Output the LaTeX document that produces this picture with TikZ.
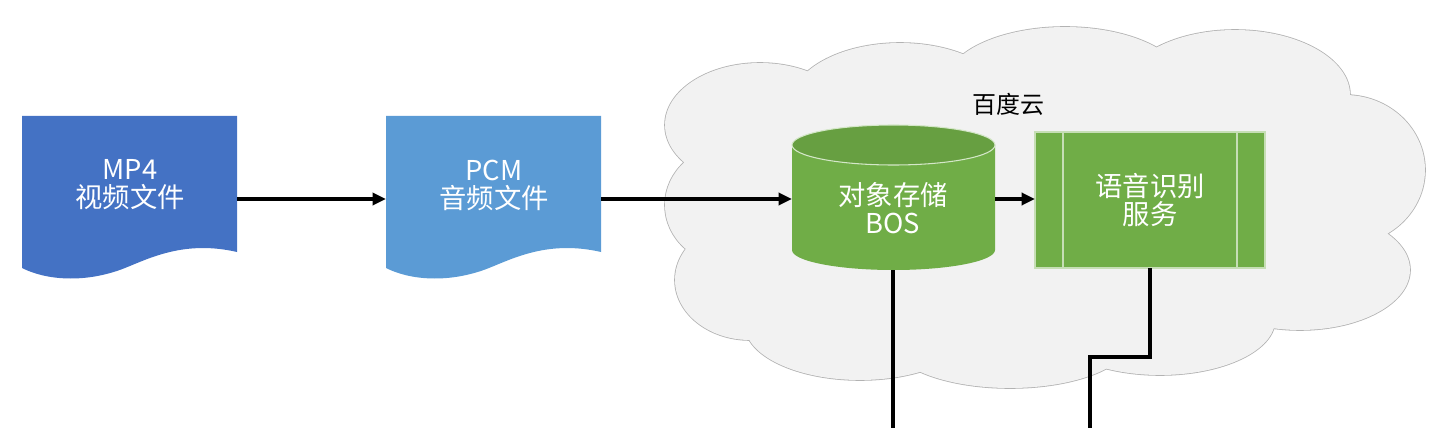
\documentclass[tikz,border=0pt]{standalone}
\usepackage{fontspec}
\setmainfont{Noto Sans CJK SC}
\usetikzlibrary{arrows.meta,shapes.geometric}
\begin{document}
\begin{tikzpicture}[x=0.75pt,y=-0.75pt,
  lab/.style={text=white,font=\fontsize{20.5}{25}\selectfont,align=center},
  conn/.style={line width=3pt,-{Triangle[length=10pt,width=9pt]}},
  wire/.style={line width=3pt}]
\useasboundingbox (0,0) rectangle (1440,428);
% cloud
\def\lobes{
 (760,125) ellipse [x radius=95,y radius=62]
 (730,205) ellipse [x radius=65,y radius=60]
 (750,280) ellipse [x radius=75,y radius=60]
 (860,325) ellipse [x radius=115,y radius=55]
 (1010,340) ellipse [x radius=120,y radius=48]
 (1160,320) ellipse [x radius=115,y radius=55]
 (1300,270) ellipse [x radius=110,y radius=60]
 (1345,170) ellipse [x radius=80,y radius=75]
 (1235,95) ellipse [x radius=115,y radius=65]
 (1065,85) ellipse [x radius=120,y radius=58]
 (900,105) ellipse [x radius=110,y radius=62]
 (1040,210) ellipse [x radius=320,y radius=130]}
\draw[gray!60,line width=1.2pt] \lobes;
\fill[gray!10] \lobes;
\node[font=\fontsize{18}{22}\selectfont] (cloudlab) at (1008,104) {百度云};
% documents
\fill[color={rgb,255:red,68;green,114;blue,196}] (22,116) -- (237,116) -- (237,252)
  .. controls (185,240) and (150,258) .. (125,268) .. controls (90,282) and (50,282) .. (22,268) -- cycle;
\node[lab] (mp4) at (130,185) {MP4\\[-4pt]视频文件};
\fill[color={rgb,255:red,91;green,155;blue,213}] (386,116) -- (601,116) -- (601,252)
  .. controls (549,240) and (514,258) .. (489,268) .. controls (454,282) and (414,282) .. (386,268) -- cycle;
\node[lab] (pcm) at (494,185) {PCM\\[-4pt]音频文件};
% cylinder
\definecolor{grn}{RGB}{112,173,71}
\fill[grn] (792,145) -- (792,250) arc[start angle=180,end angle=0,x radius=101.5,y radius=20] -- (995,145) -- cycle;
\fill[grn!92!black] (893.5,145) ellipse [x radius=101.5,y radius=20];
\draw[white!70!grn,line width=0.8pt] (893.5,145) ellipse [x radius=101.5,y radius=20];
\coordinate (bosW) at (792,199); \coordinate (bosE) at (995,199); \coordinate (bosS) at (893,270);
\node[lab] (bos) at (893,208) {对象存储\\[-4pt]BOS};
% process box
\draw[fill=grn,draw=white!60!grn,line width=0.8pt] (1035,132) rectangle (1265,268);
\draw[white!60!grn,line width=0.8pt] (1063,132) -- (1063,268) (1237,132) -- (1237,268);
\coordinate (asrW) at (1035,199); \coordinate (asrS) at (1150,268);
\node[lab] (asr) at (1150,200) {语音识别\\[-4pt]服务};
% connectors
\coordinate (mp4E) at (237,199); \coordinate (pcmW) at (386,199); \coordinate (pcmE) at (601,199);
\draw[conn] (mp4E) -- (pcmW);
\draw[conn] (pcmE) -- (bosW);
\draw[conn] (bosE) -- (asrW);
\coordinate (b1) at (893,428); \coordinate (b2) at (1090,428);
\draw[wire] (bosS) -- (b1);
\draw[wire] (asrS) -- (1150,357) -- (1090,357) -- (b2);
\end{tikzpicture}
\end{document}
